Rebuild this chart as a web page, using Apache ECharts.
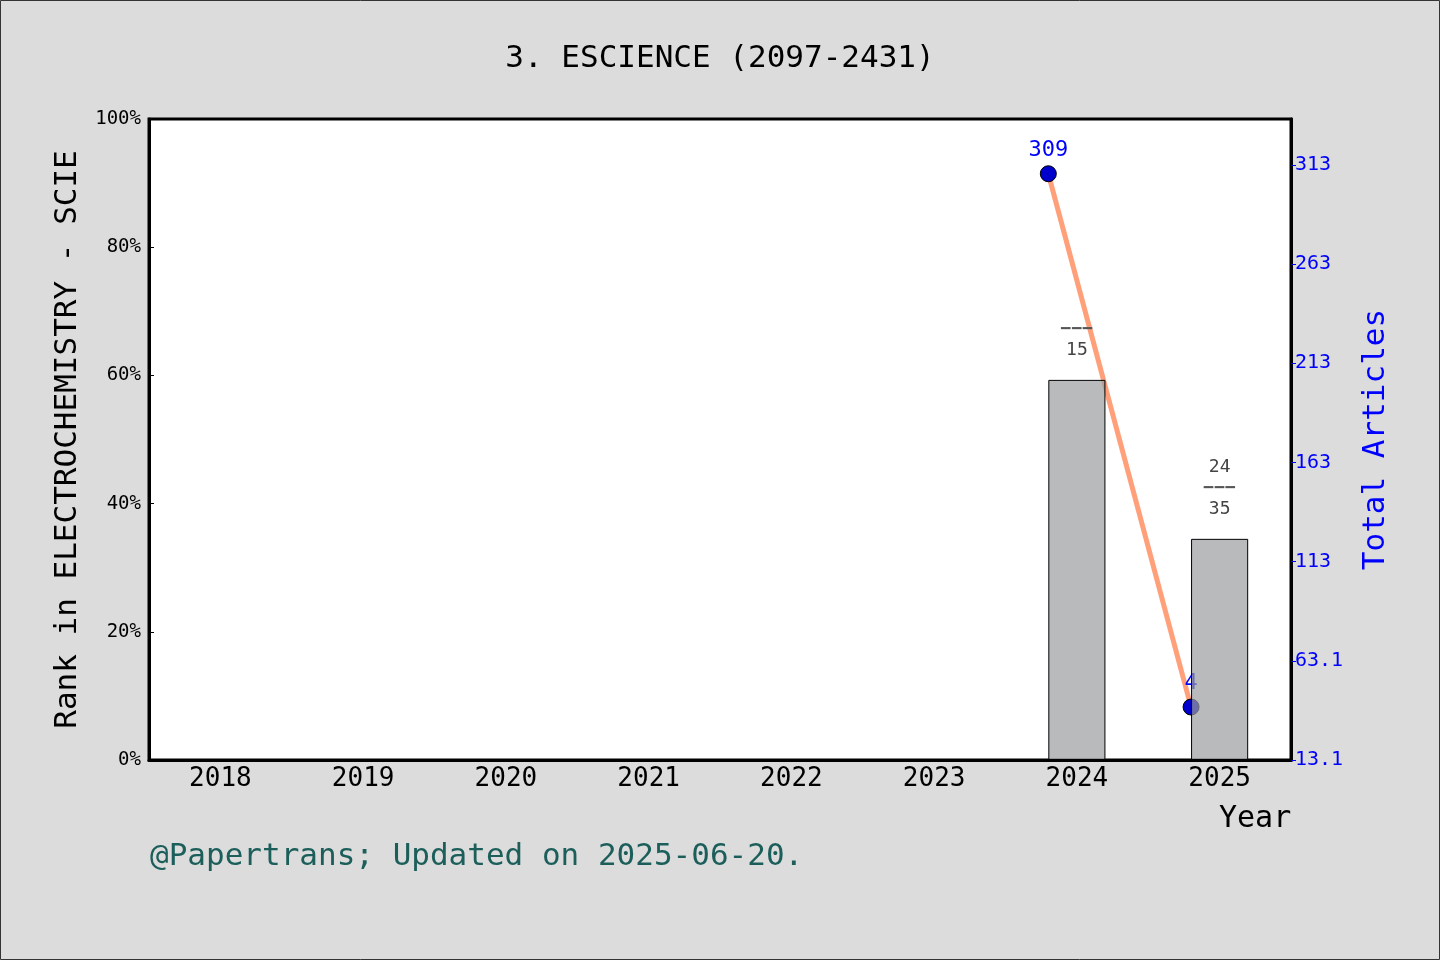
<!DOCTYPE html>
<html>
<head>
<meta charset="utf-8">
<script src="https://cdn.jsdelivr.net/npm/echarts@6/dist/echarts.min.js"></script>
<style>
  html, body { margin: 0; padding: 0; background: #dcdcdc; }
  #main { width: 1440px; height: 960px; }
</style>
</head>
<body>
<div id="main"></div>
<script>
    var years = ['2018', '2019', '2020', '2021', '2022', '2023', '2024', '2025'];
    // 分区排名百分比 (bar heights)
    var rankPct = [null, null, null, null, null, null, 59.3, 34.5];
    var rankNum = ['', '', '', '', '', '', '', '24'];
    var rankDen = ['', '', '', '', '', '', '15', '35'];
    // 发文量 (line, drawn at left edge of each bar)
    var articleX = [5.8, 6.8];
    var articleVal = [308.6, 39.8];
    var articleText = ['309', '4'];
    var rightTicks = { min: 13.1, max: 336.2, interval: 50 };

    var MONO = 'DejaVu Sans Mono';
    var chart = echarts.init(document.getElementById('main'));

    var option = {
        backgroundColor: '#dcdcdc',
        title: {
            text: '3. ESCIENCE (2097-2431)',
            left: 'center',
            top: 38,
            textStyle: { fontFamily: MONO, fontSize: 31, fontWeight: 'normal', color: '#000' }
        },
        grid: {
            left: 149,
            right: 149,
            top: 119,
            bottom: 200,
            show: true,
            backgroundColor: '#fff',
            borderColor: '#000',
            borderWidth: 3
        },
        xAxis: [{
            type: 'category',
            data: years,
            boundaryGap: true,
            name: 'Year',
            nameLocation: 'end',
            nameGap: -72,
            nameTextStyle: {
                fontFamily: MONO, fontSize: 30, color: '#000',
                verticalAlign: 'top', padding: [44, 0, 0, 0]
            },
            axisLine: { onZero: false, lineStyle: { color: '#000', width: 3 } },
            axisTick: { inside: true, length: 6, lineStyle: { color: '#000', width: 1 } },
            axisLabel: { fontFamily: MONO, fontSize: 26, color: '#000', margin: 6 },
            splitLine: { show: false }
        }, {
            type: 'value',
            min: -0.5,
            max: 7.5,
            show: false,
            axisLine: { onZero: false }
        }],
        yAxis: [{
            type: 'value',
            min: 0,
            max: 100,
            interval: 20,
            name: 'Rank in ELECTROCHEMISTRY - SCIE',
            nameLocation: 'middle',
            nameGap: 66,
            nameTextStyle: { fontFamily: MONO, fontSize: 31, color: '#000' },
            axisLine: { show: true, onZero: false, lineStyle: { color: '#000', width: 3 } },
            axisTick: { show: true, inside: true, length: 5, lineStyle: { color: '#000' } },
            axisLabel: { fontFamily: MONO, fontSize: 19, color: '#000', margin: 8, formatter: '{value}%' },
            splitLine: { show: false }
        }, {
            type: 'value',
            position: 'right',
            min: rightTicks.min,
            max: rightTicks.max,
            interval: rightTicks.interval,
            name: 'Total Articles',
            nameLocation: 'middle',
            nameGap: 69,
            nameRotate: 90,
            nameTextStyle: { fontFamily: MONO, fontSize: 31, color: '#0000ff' },
            axisLine: { show: true, onZero: false, lineStyle: { color: '#000', width: 3 } },
            axisTick: { show: true, length: 5, lineStyle: { color: '#0000ff' } },
            axisLabel: {
                fontFamily: MONO, fontSize: 20, color: '#0000ff', margin: 4,
                showMaxLabel: false,
                formatter: function (v) { return String(Number(v.toPrecision(3))); }
            },
            splitLine: { show: false }
        }],
        series: [{
            name: '发文量',
            type: 'line',
            xAxisIndex: 1,
            yAxisIndex: 1,
            z: 2,
            data: articleX.map(function (x, i) { return [x, articleVal[i]]; }),
            symbol: 'circle',
            symbolSize: 16,
            lineStyle: { color: '#ffa07a', width: 5 },
            itemStyle: { color: '#0000cd', borderColor: '#000', borderWidth: 1 },
            label: {
                show: true,
                position: 'top',
                distance: 4,
                fontFamily: MONO,
                fontSize: 22,
                color: '#0000ff',
                formatter: function (p) { return articleText[p.dataIndex]; }
            }
        }, {
            name: '排名',
            type: 'bar',
            z: 3,
            barWidth: '40%',
            data: rankPct,
            itemStyle: { color: 'rgba(155,156,158,0.7)', borderColor: '#000', borderWidth: 1 },
            label: {
                show: true,
                position: 'top',
                distance: 19,
                fontFamily: MONO,
                fontSize: 18,
                lineHeight: 21,
                color: '#444',
                formatter: function (p) {
                    return rankNum[p.dataIndex] + '\n{d|−−−}\n' + rankDen[p.dataIndex];
                },
                rich: {
                    d: { fontFamily: MONO, fontSize: 18, lineHeight: 21, color: '#555', fontWeight: 'bold' }
                }
            }
        }],
        graphic: [{
            type: 'rect',
            shape: { x: 0.5, y: 0.5, width: 1439, height: 959 },
            style: { fill: 'none', stroke: '#333', lineWidth: 1 }
        }, {
            type: 'text',
            left: 150,
            top: 841,
            style: {
                text: '@Papertrans; Updated on 2025-06-20.',
                font: '31px "DejaVu Sans Mono"',
                fill: '#1b5e5a'
            }
        }]
    };
    chart.setOption(option);
</script>
</body>
</html>
